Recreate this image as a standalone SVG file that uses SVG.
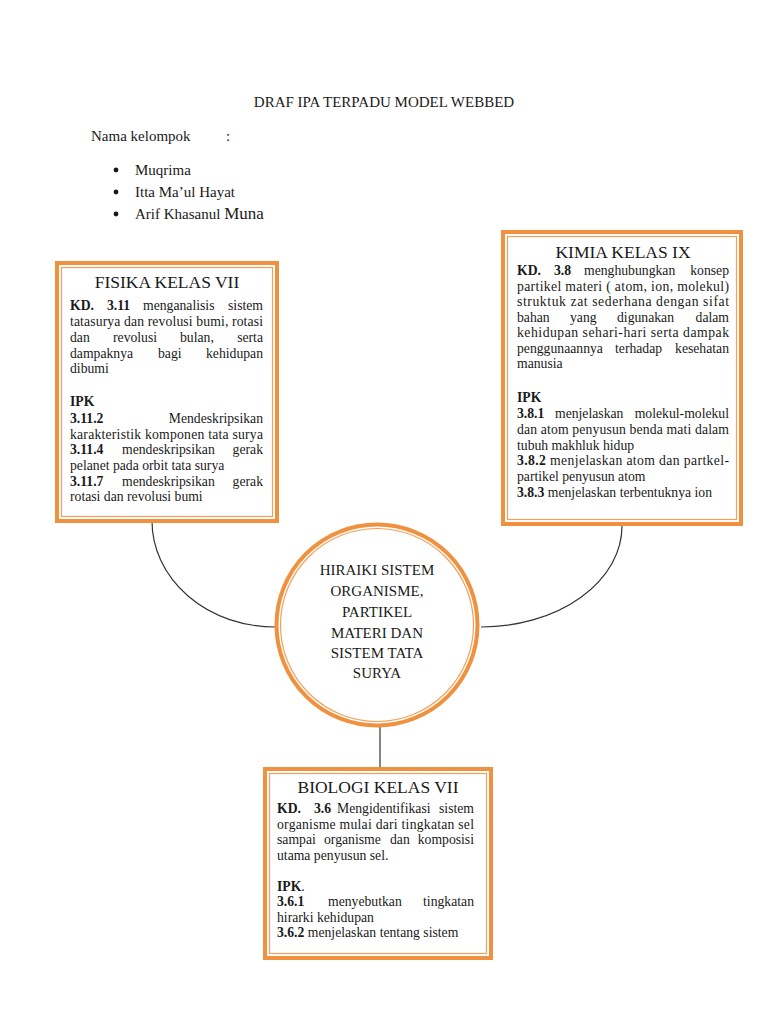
<svg xmlns="http://www.w3.org/2000/svg" width="768" height="1024" viewBox="0 0 768 1024">
<style>
text{font-family:"Liberation Serif","Times New Roman",serif;fill:#1a1a1a}
.t{font-size:13.7px}
.b{font-weight:bold}
.h{font-size:17.5px;text-anchor:middle}
.c{font-size:15px;text-anchor:middle}
.e{text-anchor:end}
.top{font-size:15px}
.o1{fill:#fff;stroke:#F0913F;stroke-width:4}
.o2{fill:none;stroke:#F2A05A;stroke-width:1.2}
.conn{fill:none;stroke:#333;stroke-width:1.2}
</style>
<rect width="768" height="1024" fill="#fff"/>
<g id="header">
<text class="top" x="384" y="107" text-anchor="middle">DRAF IPA TERPADU MODEL WEBBED</text>
<text class="top" x="91" y="141">Nama kelompok</text>
<text class="top" x="226" y="141">:</text>
<circle cx="116" cy="170" r="2.4" fill="#1a1a1a"/>
<circle cx="116" cy="192" r="2.4" fill="#1a1a1a"/>
<circle cx="116" cy="214" r="2.4" fill="#1a1a1a"/>
<text class="top" x="135" y="175">Muqrima</text>
<text class="top" x="135" y="197">Itta Ma’ul Hayat</text>
<text class="top" x="135" y="219">Arif Khasanul <tspan font-size="17px">Muna</tspan></text>
</g>
<g id="connectors">
<path class="conn" d="M152,521 A123,106 0 0 0 275,627"/>
<path class="conn" d="M622,526 A141,101 0 0 1 481,627"/>
<line class="conn" x1="380" y1="727" x2="380" y2="768"/>
</g>
<g id="fisika">
<rect class="o1" x="57" y="263" width="220" height="258"/>
<rect class="o2" x="61.5" y="267.5" width="211" height="249"/>
<text class="h" x="167" y="288">FISIKA KELAS VII</text>
<text class="t" y="310"><tspan class="b" x="70">KD.</tspan><tspan class="b" x="107">3.11</tspan><tspan x="143">menganalisis</tspan></text>
<text class="t e" x="263" y="310">sistem</text>
<text class="t" x="70" y="326" textLength="193" lengthAdjust="spacing">tatasurya dan revolusi bumi, rotasi</text>
<text class="t" y="342"><tspan x="70">dan</tspan><tspan x="113">revolusi</tspan><tspan x="180">bulan,</tspan></text>
<text class="t e" x="263" y="342">serta</text>
<text class="t" y="358"><tspan x="70">dampaknya</tspan><tspan x="158">bagi</tspan></text>
<text class="t e" x="263" y="358">kehidupan</text>
<text class="t" x="70" y="373">dibumi</text>
<text class="t b" x="70" y="406">IPK</text>
<text class="t b" x="70" y="423">3.11.2</text>
<text class="t e" x="263" y="423">Mendeskripsikan</text>
<text class="t" x="70" y="439" textLength="193" lengthAdjust="spacing">karakteristik komponen tata surya</text>
<text class="t" y="454"><tspan class="b" x="70">3.11.4</tspan><tspan x="122">mendeskripsikan</tspan></text>
<text class="t e" x="263" y="454">gerak</text>
<text class="t" x="70" y="470">pelanet pada orbit tata surya</text>
<text class="t" y="486"><tspan class="b" x="70">3.11.7</tspan><tspan x="122">mendeskripsikan</tspan></text>
<text class="t e" x="263" y="486">gerak</text>
<text class="t" x="70" y="501">rotasi dan revolusi bumi</text>
</g>
<g id="kimia">
<rect class="o1" x="503" y="232" width="238" height="292"/>
<rect class="o2" x="507.5" y="236.5" width="229" height="283"/>
<text class="h" x="623" y="258">KIMIA KELAS IX</text>
<text class="t" y="275"><tspan class="b" x="517">KD.</tspan><tspan class="b" x="554">3.8</tspan><tspan x="584">menghubungkan</tspan></text>
<text class="t e" x="729" y="275">konsep</text>
<text class="t" x="517" y="291" textLength="212" lengthAdjust="spacing">partikel materi ( atom, ion, molekul)</text>
<text class="t" x="517" y="306" textLength="212" lengthAdjust="spacing">struktuk zat sederhana dengan sifat</text>
<text class="t" y="322"><tspan x="517">bahan</tspan><tspan x="570">yang</tspan><tspan x="617">digunakan</tspan></text>
<text class="t e" x="729" y="322">dalam</text>
<text class="t" x="517" y="337" textLength="212" lengthAdjust="spacing">kehidupan sehari-hari serta dampak</text>
<text class="t" y="353"><tspan x="517">penggunaannya</tspan><tspan x="615">terhadap</tspan></text>
<text class="t e" x="729" y="353">kesehatan</text>
<text class="t" x="517" y="368">manusia</text>
<text class="t b" x="517" y="402">IPK</text>
<text class="t" y="418"><tspan class="b" x="517">3.8.1</tspan><tspan x="555">menjelaskan</tspan></text>
<text class="t e" x="729" y="418">molekul-molekul</text>
<text class="t" x="517" y="434" textLength="212" lengthAdjust="spacing">dan atom penyusun benda mati dalam</text>
<text class="t" x="517" y="450">tubuh makhluk hidup</text>
<text class="t" x="517" y="465" textLength="212" lengthAdjust="spacing"><tspan class="b">3.8.2</tspan> menjelaskan atom dan partkel-</text>
<text class="t" x="517" y="481">partikel penyusun atom</text>
<text class="t" x="517" y="497"><tspan class="b">3.8.3</tspan> menjelaskan terbentuknya ion</text>
</g>
<g id="pusat">
<circle class="o1" cx="377" cy="625" r="100.5"/>
<circle class="o2" cx="377" cy="625" r="96.5"/>
<text class="c" x="377" y="575">HIRAIKI SISTEM</text>
<text class="c" x="377" y="596">ORGANISME,</text>
<text class="c" x="377" y="617">PARTIKEL</text>
<text class="c" x="377" y="638">MATERI DAN</text>
<text class="c" x="377" y="658">SISTEM TATA</text>
<text class="c" x="377" y="678">SURYA</text>
</g>
<g id="biologi">
<rect class="o1" x="265" y="769" width="226" height="189"/>
<rect class="o2" x="269.5" y="773.5" width="217" height="180"/>
<text class="h" x="378" y="793">BIOLOGI KELAS VII</text>
<text class="t" y="813"><tspan class="b" x="277">KD.</tspan><tspan class="b" x="314">3.6</tspan><tspan x="337">Mengidentifikasi</tspan></text>
<text class="t e" x="474" y="813">sistem</text>
<text class="t" x="277" y="829" textLength="197" lengthAdjust="spacing">organisme mulai dari tingkatan sel</text>
<text class="t" y="844"><tspan x="277">sampai</tspan><tspan x="324">organisme</tspan><tspan x="390">dan</tspan></text>
<text class="t e" x="474" y="844">komposisi</text>
<text class="t" x="277" y="860">utama penyusun sel.</text>
<text class="t" x="277" y="891"><tspan class="b">IPK</tspan>.</text>
<text class="t" y="906"><tspan class="b" x="277">3.6.1</tspan><tspan x="328">menyebutkan</tspan></text>
<text class="t e" x="474" y="906">tingkatan</text>
<text class="t" x="277" y="922">hirarki kehidupan</text>
<text class="t" x="277" y="937"><tspan class="b">3.6.2</tspan> menjelaskan tentang sistem</text>
</g>
</svg>
